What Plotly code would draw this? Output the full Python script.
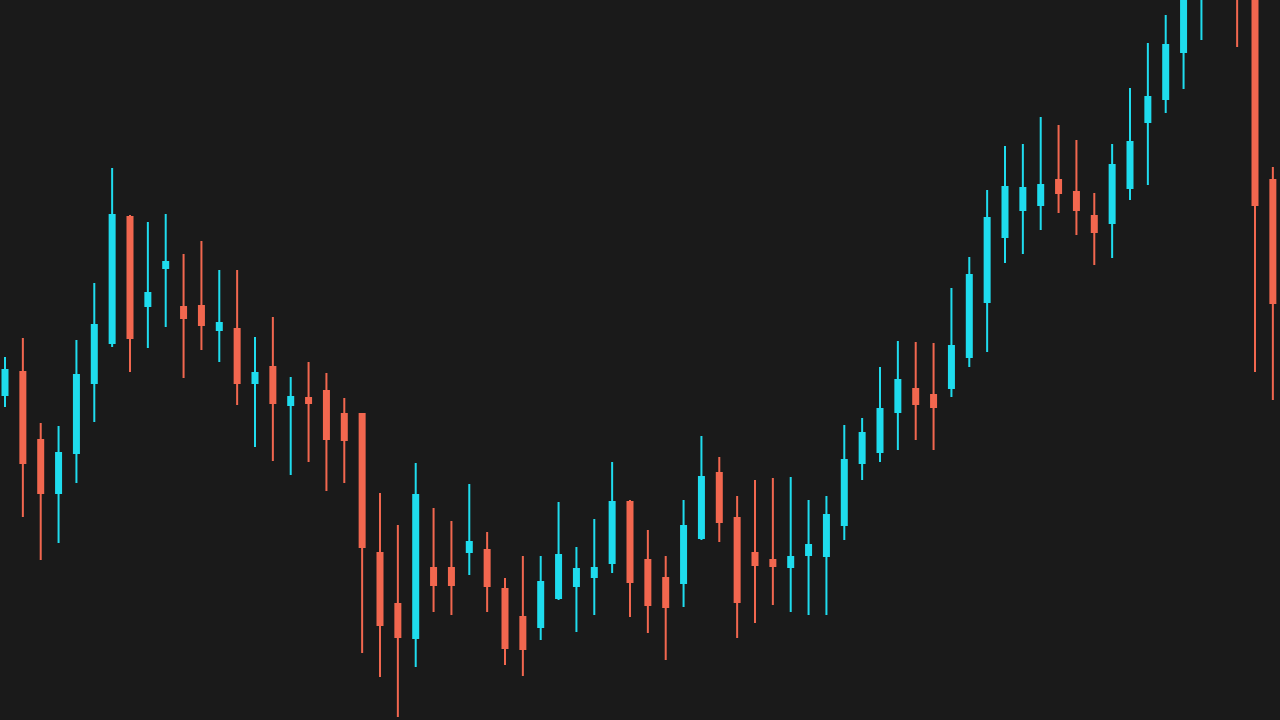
import plotly.graph_objects as go

# OHLC values (arbitrary price units, higher = up)
opens = [325, 348, 280, 227, 267, 337, 377, 503, 414, 452, 413, 414, 390, 391, 337, 353, 315, 322, 329, 306,
         306, 167, 116, 82, 152, 152, 168, 170, 131, 103, 93, 122, 134, 143, 157, 218, 160, 142, 137, 182,
         247, 202, 167, 160, 153, 165, 164, 195, 257, 268, 308, 331, 325, 332, 363, 418, 483, 510, 515, 540,
         528, 504, 497, 532, 598, 621, 668, 740, None, 800, 740, 540]
highs = [363, 382, 297, 294, 380, 437, 552, 505, 498, 506, 466, 479, 450, 450, 383, 403, 343, 358, 347, 322,
         307, 227, 195, 257, 212, 199, 236, 188, 142, 164, 164, 218, 173, 201, 258, 220, 190, 164, 220, 284,
         263, 224, 240, 242, 243, 220, 224, 295, 302, 353, 379, 378, 377, 432, 463, 530, 574, 576, 603, 595,
         580, 527, 576, 632, 677, 705, 760, 800, None, 810, 750, 553]
lows = [313, 203, 160, 177, 237, 298, 373, 348, 372, 393, 342, 370, 358, 315, 273, 259, 245, 258, 229, 237,
        67, 43, 3, 53, 108, 105, 145, 108, 55, 44, 80, 120, 88, 105, 147, 103, 87, 60, 113, 180,
        178, 82, 97, 115, 108, 105, 105, 180, 240, 258, 270, 280, 270, 323, 353, 368, 457, 466, 490, 507,
        485, 455, 462, 520, 535, 607, 631, 680, None, 673, 348, 320]
closes = [350, 257, 227, 267, 345, 395, 505, 382, 427, 458, 402, 395, 397, 337, 347, 317, 323, 317, 281, 280,
          173, 95, 83, 225, 135, 135, 178, 134, 72, 71, 138, 165, 151, 152, 218, 138, 115, 113, 194, 243,
          198, 118, 155, 154, 163, 175, 205, 260, 287, 311, 340, 316, 313, 374, 445, 502, 533, 532, 535, 527,
          510, 488, 555, 578, 623, 675, 735, 780, None, 760, 515, 417]
periods = list(range(len(opens)))

UP = "#1fdcee"
DOWN = "#f2674f"
BG = "#1a1a1a"

fig = go.Figure(go.Candlestick(
    x=periods, open=opens, high=highs, low=lows, close=closes,
    increasing=dict(line=dict(color=UP, width=2), fillcolor=UP),
    decreasing=dict(line=dict(color=DOWN, width=2), fillcolor=DOWN),
    whiskerwidth=0,
    hoverinfo="skip",
))

fig.update_layout(
    width=1280, height=720,
    margin=dict(l=0, r=0, t=0, b=0),
    paper_bgcolor=BG, plot_bgcolor=BG,
    showlegend=False,
    boxgap=0.6,
    xaxis=dict(visible=False, range=[-0.28, 71.4], rangeslider=dict(visible=False), fixedrange=True),
    yaxis=dict(visible=False, range=[0, 720], fixedrange=True),
)

fig.write_html(
    "out.html",
    config={"displayModeBar": False},
    post_script="document.body.style.margin='0';document.body.style.background='%s';document.body.style.overflow='hidden';" % BG,
)
